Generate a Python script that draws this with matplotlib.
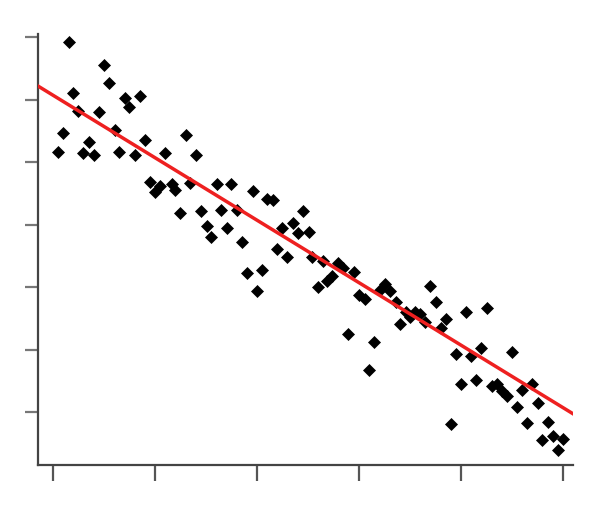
import numpy as np
import matplotlib
matplotlib.use("Agg")
import matplotlib.pyplot as plt

# ---------------------------
# Data
# ---------------------------
x = [0.16, 0.50, 0.55, 0.20, 0.71, 0.85, 0.75, 0.25, 0.45, 0.10,
     0.61, 0.35, 0.90, 0.05, 0.29, 0.40, 0.65, 0.80, 1.10, 1.30,
     1.40, 0.95, 1.00, 1.05, 1.17, 1.20, 1.34, 1.61, 1.75, 1.96,
     2.10, 2.16, 1.25, 1.45, 1.65, 1.80, 1.51, 1.71, 1.55, 2.25,
     1.85, 2.20, 2.29, 1.90, 2.05, 2.00, 2.45, 2.35, 2.40, 2.51,
     2.54, 2.65, 2.79, 2.84, 2.95, 2.69, 2.74, 2.60, 3.00, 3.06,
     3.25, 3.21, 3.30, 3.36, 3.46, 3.40, 2.89, 3.15, 3.10, 3.50,
     3.55, 3.60, 3.65, 3.70, 3.75, 3.80, 3.85, 4.05, 4.25, 3.95,
     4.10, 4.20, 4.50, 4.00, 4.15, 4.30, 4.35, 4.40, 4.45, 4.60,
     4.70, 4.75, 4.55, 3.90, 4.65, 4.85, 4.79, 4.90, 5.00, 4.95]

y = [5.92, 5.55, 5.26, 5.10, 5.02, 5.06, 4.88, 4.82, 4.80, 4.46,
     4.51, 4.32, 4.35, 4.16, 4.14, 4.11, 4.16, 4.11, 4.14, 4.43,
     4.11, 3.68, 3.52, 3.62, 3.65, 3.55, 3.66, 3.65, 3.65, 3.54,
     3.41, 3.39, 3.18, 3.22, 3.23, 3.23, 2.98, 2.94, 2.80, 2.94,
     2.72, 2.61, 2.48, 2.22, 2.27, 1.94, 3.22, 3.02, 2.86, 2.88,
     2.48, 2.42, 2.38, 2.30, 2.24, 2.10, 2.18, 2.00, 1.87, 1.81,
     2.05, 1.95, 1.94, 1.76, 1.60, 1.41, 1.25, 1.12, 0.67, 1.52,
     1.60, 1.57, 1.44, 2.02, 1.76, 1.34, 1.49, 1.60, 1.66, 0.93,
     0.90, 1.02, 0.96, 0.45, 0.51, 0.42, 0.45, 0.34, 0.26, 0.35,
     0.45, 0.14, 0.08, -0.19, -0.18, -0.16, -0.45, -0.38, -0.43, -0.61]

# fitted line as seen in the picture
intercept = 5.07
slope = -1.0

x_ticks = [0, 1, 2, 3, 4, 5]
y_ticks = [0, 1, 2, 3, 4, 5, 6]

# ---------------------------
# Plot
# ---------------------------
fig = plt.figure(figsize=(6.02, 5.10), dpi=100)
ax = fig.add_axes([38 / 602, 44 / 510, 535 / 602, 431 / 510])

xlim = (-0.147, 5.098)
ax.plot(x, y, linestyle="none", marker="D", markersize=6.6,
        color="black", markeredgewidth=0.5, zorder=2)

xl = np.array(xlim)
ax.plot(xl, intercept + slope * xl, color="#ee2020", linewidth=2.5, zorder=3)

ax.set_xlim(*xlim)
ax.set_ylim(-0.848, 6.05)
ax.set_xticks(x_ticks)
ax.set_yticks(y_ticks)
ax.set_xticklabels([])
ax.set_yticklabels([])

for side in ["top", "right"]:
    ax.spines[side].set_visible(False)
for side in ["left", "bottom"]:
    ax.spines[side].set_color("#444444")
    ax.spines[side].set_linewidth(1.6)

ax.tick_params(axis="x", direction="out", length=11.5, width=1.6, color="#555555")
ax.tick_params(axis="y", direction="out", length=9.5, width=1.6, color="#777777")

fig.savefig("out.png", dpi=100)
